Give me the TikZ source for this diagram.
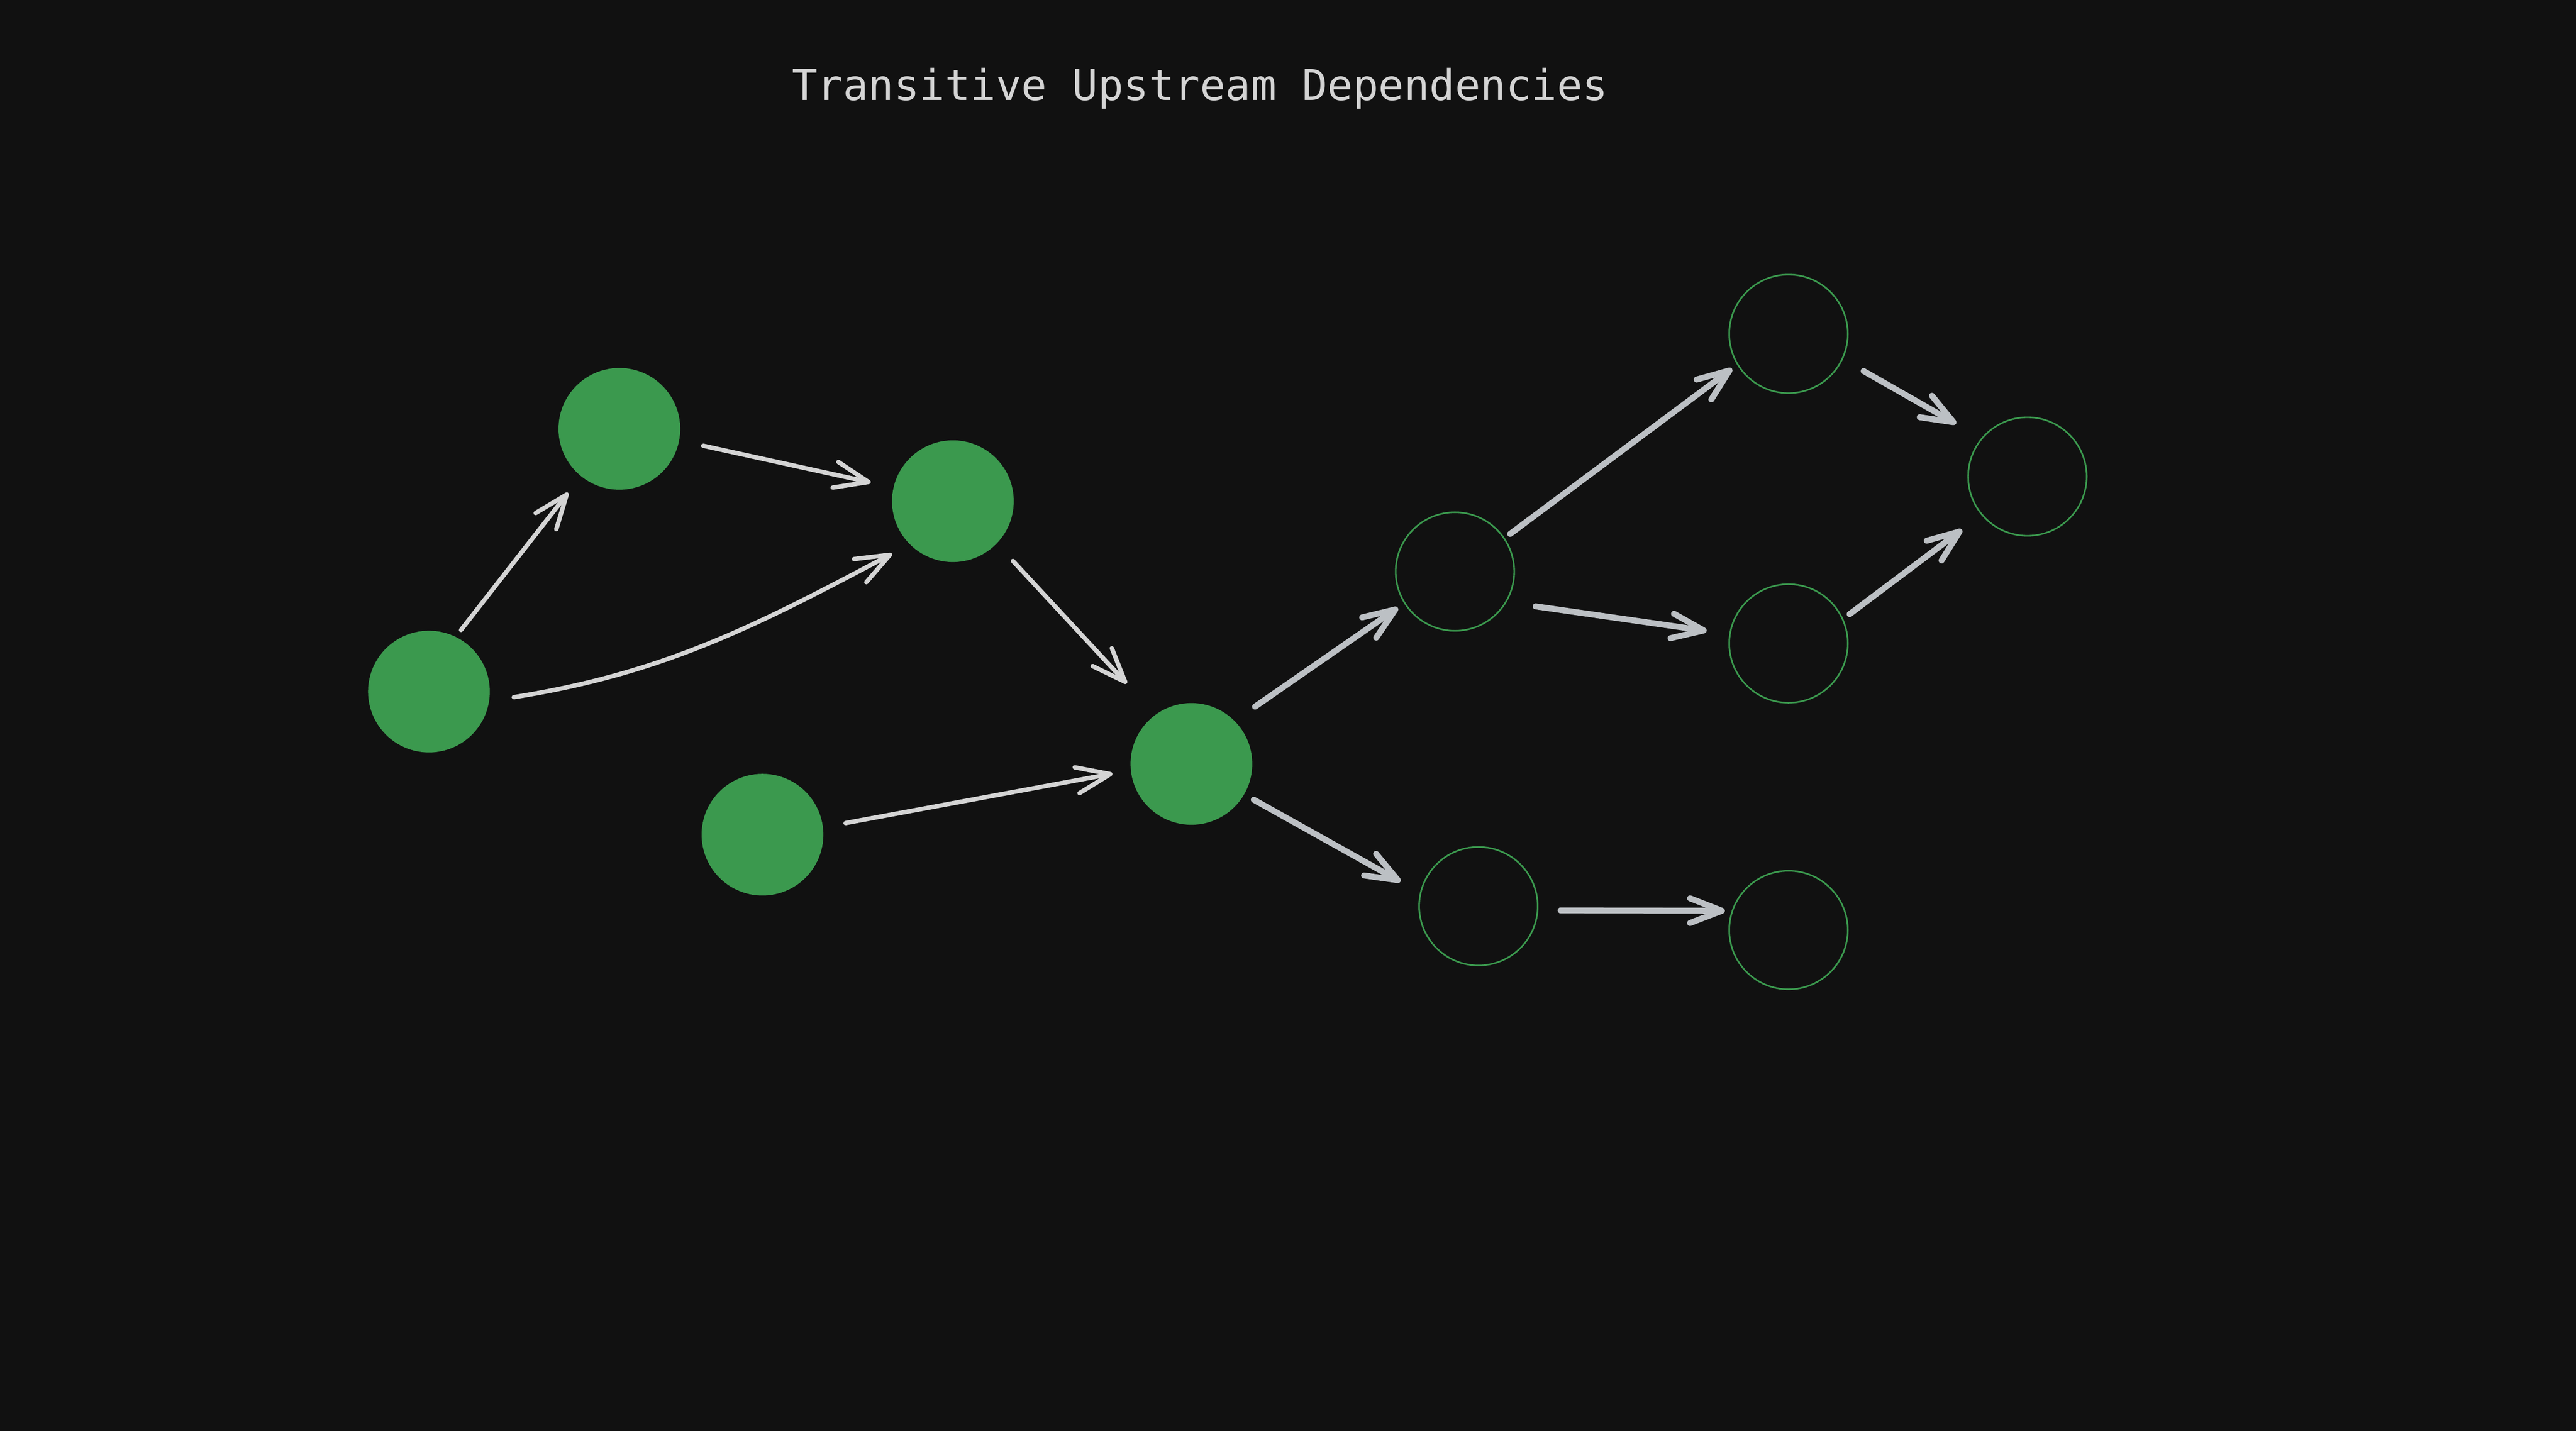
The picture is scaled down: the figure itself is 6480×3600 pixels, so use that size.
\documentclass[tikz,border=0pt]{standalone}
\usepackage{fontspec}
\setmonofont{DejaVu Sans Mono}
\usetikzlibrary{arrows.meta}

\definecolor{bgdark}{HTML}{111111}
\definecolor{depgreen}{HTML}{3B994E}
\definecolor{upgray}{HTML}{D4D4D4}
\definecolor{downgray}{HTML}{BCC0C4}

\begin{document}
\begin{tikzpicture}[x=0.01cm,y=0.01cm,
  donenode/.style={circle,fill=depgreen,minimum size=3.06cm,inner sep=0,outer sep=0},
  opennode/.style={circle,draw=depgreen,line width=0.04cm,minimum size=2.98cm,inner sep=0,outer sep=0},
  upedge/.style={draw=upgray,line width=0.11cm,line cap=round,
    -{Straight Barb[length=0.85cm,width=0.66cm,line width=0.11cm,round]}},
  downedge/.style={draw=downgray,line width=0.15cm,line cap=round,
    -{Straight Barb[length=0.8cm,width=0.62cm,line width=0.15cm,round]}}]

  \fill[bgdark] (0,0) rectangle (6480,3600);
  \node (TITLE) at (3019,3348) [anchor=base,text=upgray,font=\ttfamily\fontsize{30.3}{36}\selectfont] {Transitive Upstream Dependencies};

  % upstream, done
  \node (A) at (1079,1860) [donenode] {};
  \node (B) at (1558,2521) [donenode] {};
  \node (C) at (2397,2339) [donenode] {};
  \node (D) at (1918,1500) [donenode] {};
  \node (E) at (2997,1678) [donenode] {};

  % downstream, not yet
  \node (F) at (3660,2162) [opennode] {};
  \node (G) at (4499,2760) [opennode] {};
  \node (H) at (5100,2401) [opennode] {};
  \node (I) at (4499,1981) [opennode] {};
  \node (J) at (3719,1320) [opennode] {};
  \node (K) at (4499,1260) [opennode] {};

  \draw[upedge,shorten <=0.22cm,shorten >=0.53cm] (A.64) -- (B.231);
  \draw[upedge,shorten <=0.62cm,shorten >=0.59cm] (B.-11) -- (C.167);
  \draw[upedge,shorten <=0.63cm,shorten >=0.51cm] (A.-9) to[out=9,in=208] (C.225);
  \draw[upedge,shorten <=0.60cm,shorten >=1.07cm] (C.-44) -- (E.126);
  \draw[upedge,shorten <=0.58cm,shorten >=0.47cm] (D.7) -- (E.186);

  \draw[downedge,shorten <=0.63cm,shorten >=0.21cm] (E.45) -- (F.212);
  \draw[downedge,shorten <=0.28cm,shorten >=0.58cm] (E.-30) -- (J.167);
  \draw[downedge,shorten <=0.19cm,shorten >=0.18cm] (F.34) -- (G.211);
  \draw[downedge,shorten <=0.76cm,shorten >=0.59cm] (F.-31) -- (I.171);
  \draw[downedge,shorten <=0.62cm,shorten >=0.75cm] (G.-25) -- (H.140);
  \draw[downedge,shorten <=0.22cm,shorten >=0.63cm] (I.24) -- (H.220);
  \draw[downedge,shorten <=0.58cm,shorten >=0.19cm] (J.-4) -- (K.161);

\end{tikzpicture}
\end{document}
